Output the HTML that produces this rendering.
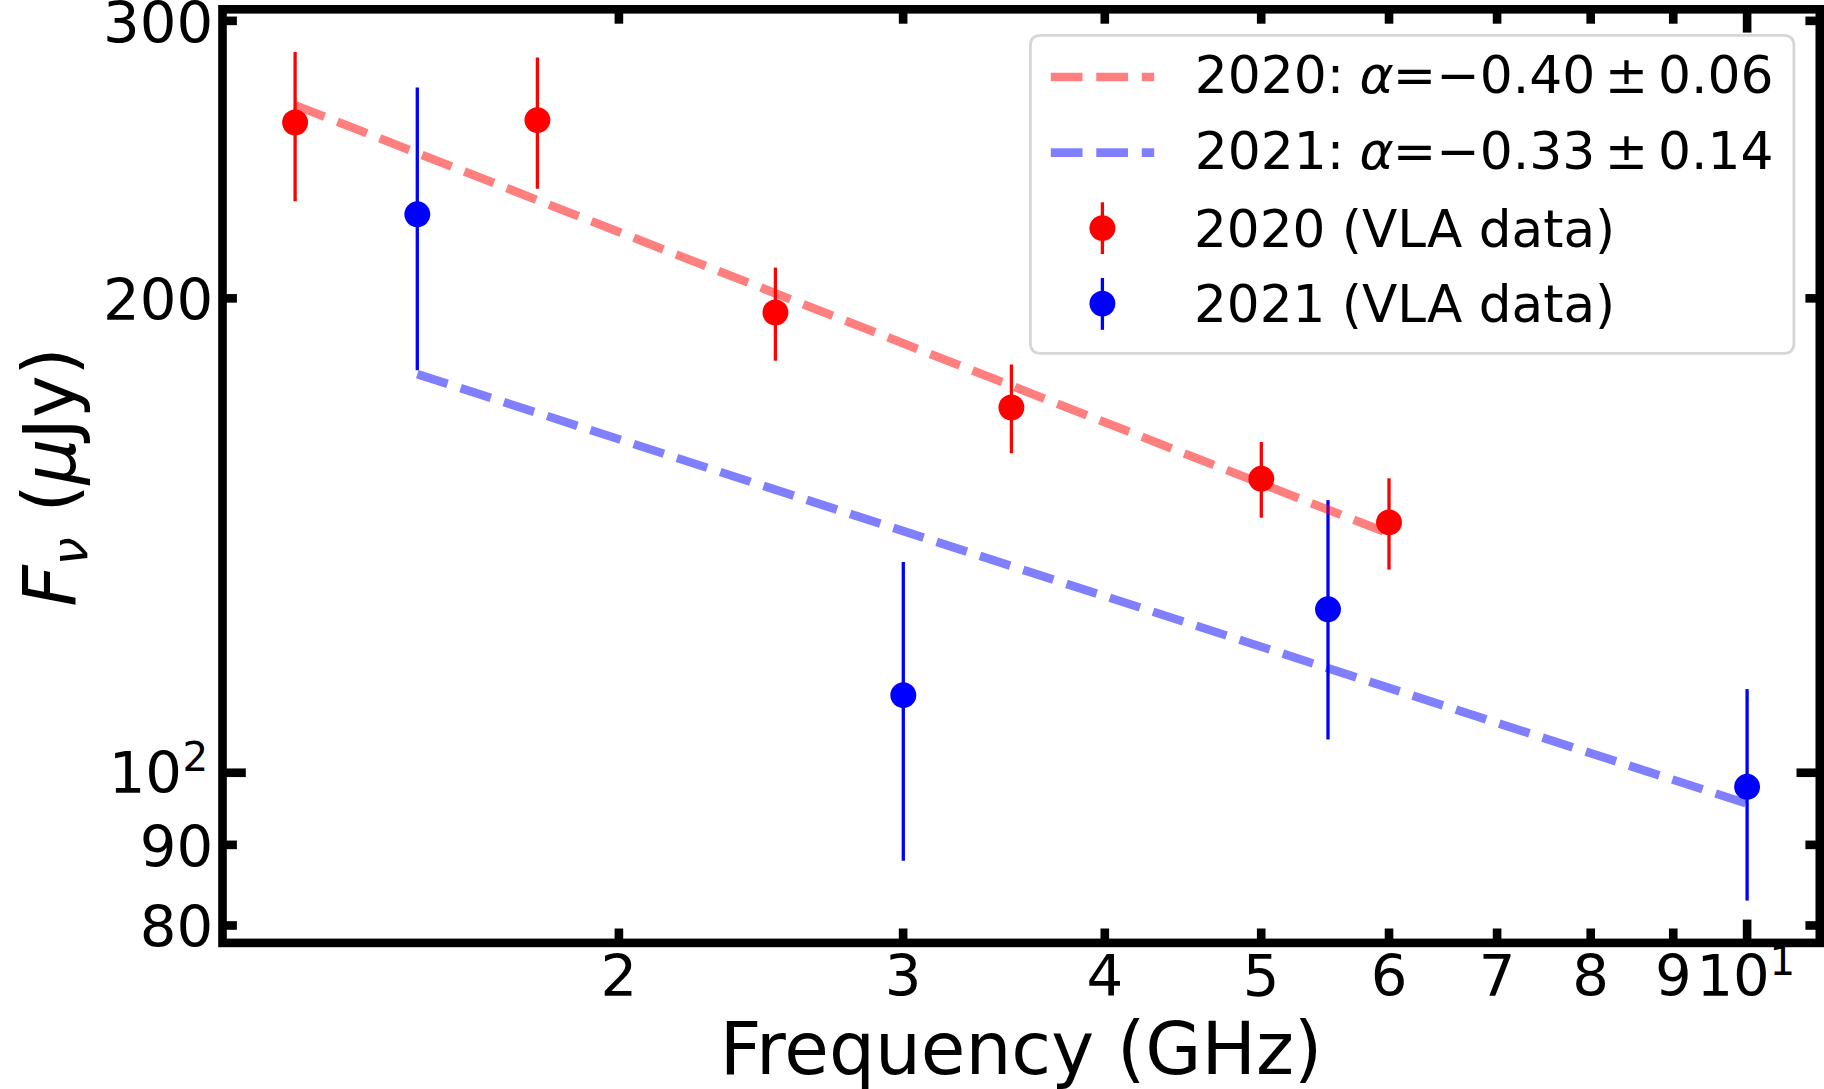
<!DOCTYPE html>
<html lang="en"><head><meta charset="utf-8"><title>Radio spectrum: F_nu vs Frequency</title>
<style>html,body{margin:0;padding:0;background:#fff}svg{display:block}</style></head>
<body>
<svg width="1824" height="1089" viewBox="0 0 1824 1089" font-family="DejaVu Sans, Liberation Sans, sans-serif">
<rect width="1824" height="1089" fill="#fff"/>
<g stroke="#00f" stroke-width="3.30">
<line x1="417.3" y1="87.4" x2="417.3" y2="370.2"/>
<line x1="903.3" y1="562.0" x2="903.3" y2="860.7"/>
<line x1="1328.0" y1="500.1" x2="1328.0" y2="739.5"/>
<line x1="1747.1" y1="689.1" x2="1747.1" y2="900.6"/>
</g>
<g stroke="#f00" stroke-width="3.30">
<line x1="295.1" y1="52.0" x2="295.1" y2="201.2"/>
<line x1="537.4" y1="57.4" x2="537.4" y2="188.8"/>
<line x1="775.4" y1="267.6" x2="775.4" y2="360.7"/>
<line x1="1011.4" y1="364.5" x2="1011.4" y2="453.2"/>
<line x1="1261.3" y1="442.0" x2="1261.3" y2="517.7"/>
<line x1="1389.0" y1="478.3" x2="1389.0" y2="569.6"/>
</g>
<g fill="none" stroke-width="8.58" stroke-dasharray="31.75 13.73" stroke-opacity="0.5">
<line x1="295.0" y1="105.2" x2="1389.0" y2="533.6" stroke="#f00"/>
<line x1="417.3" y1="374.1" x2="1747.2" y2="803.7" stroke="#00f"/>
</g>
<g fill="#f00">
<circle cx="295.1" cy="122.5" r="12.95"/>
<circle cx="537.4" cy="120.1" r="12.95"/>
<circle cx="775.4" cy="312.5" r="12.95"/>
<circle cx="1011.4" cy="407.5" r="12.95"/>
<circle cx="1261.3" cy="478.8" r="12.95"/>
<circle cx="1389.0" cy="522.4" r="12.95"/>
</g><g fill="#00f">
<circle cx="417.3" cy="214.3" r="12.95"/>
<circle cx="903.3" cy="695.2" r="12.95"/>
<circle cx="1328.0" cy="609.3" r="12.95"/>
<circle cx="1747.1" cy="786.8" r="12.95"/>
</g>
<g stroke="#000" stroke-width="8.62">
<line x1="618.90" y1="942.9" x2="618.90" y2="928.50"/>
<line x1="618.90" y1="9.3" x2="618.90" y2="23.70"/>
<line x1="903.13" y1="942.9" x2="903.13" y2="928.50"/>
<line x1="903.13" y1="9.3" x2="903.13" y2="23.70"/>
<line x1="1104.79" y1="942.9" x2="1104.79" y2="928.50"/>
<line x1="1104.79" y1="9.3" x2="1104.79" y2="23.70"/>
<line x1="1261.21" y1="942.9" x2="1261.21" y2="928.50"/>
<line x1="1261.21" y1="9.3" x2="1261.21" y2="23.70"/>
<line x1="1389.02" y1="942.9" x2="1389.02" y2="928.50"/>
<line x1="1389.02" y1="9.3" x2="1389.02" y2="23.70"/>
<line x1="1497.08" y1="942.9" x2="1497.08" y2="928.50"/>
<line x1="1497.08" y1="9.3" x2="1497.08" y2="23.70"/>
<line x1="1590.69" y1="942.9" x2="1590.69" y2="928.50"/>
<line x1="1590.69" y1="9.3" x2="1590.69" y2="23.70"/>
<line x1="1673.25" y1="942.9" x2="1673.25" y2="928.50"/>
<line x1="1673.25" y1="9.3" x2="1673.25" y2="23.70"/>
<line x1="1747.11" y1="942.9" x2="1747.11" y2="919.60"/>
<line x1="1747.11" y1="9.3" x2="1747.11" y2="32.60"/>
<line x1="222.5" y1="925.47" x2="236.90" y2="925.47"/>
<line x1="1819.8" y1="925.47" x2="1805.40" y2="925.47"/>
<line x1="222.5" y1="844.86" x2="236.90" y2="844.86"/>
<line x1="1819.8" y1="844.86" x2="1805.40" y2="844.86"/>
<line x1="222.5" y1="298.36" x2="236.90" y2="298.36"/>
<line x1="1819.8" y1="298.36" x2="1805.40" y2="298.36"/>
<line x1="222.5" y1="20.85" x2="236.90" y2="20.85"/>
<line x1="1819.8" y1="20.85" x2="1805.40" y2="20.85"/>
<line x1="222.5" y1="772.75" x2="245.80" y2="772.75"/>
<line x1="1819.8" y1="772.75" x2="1796.50" y2="772.75"/>
</g>
<rect x="222.5" y="9.3" width="1597.30" height="933.60" fill="none" stroke="#000" stroke-width="8.62" stroke-linejoin="miter"/>
<g font-size="57.7" fill="#000">
<text x="618.90" y="996.0" text-anchor="middle">2</text>
<text x="903.13" y="996.0" text-anchor="middle">3</text>
<text x="1104.79" y="996.0" text-anchor="middle">4</text>
<text x="1261.21" y="996.0" text-anchor="middle">5</text>
<text x="1389.02" y="996.0" text-anchor="middle">6</text>
<text x="1497.08" y="996.0" text-anchor="middle">7</text>
<text x="1590.69" y="996.0" text-anchor="middle">8</text>
<text x="1673.25" y="996.0" text-anchor="middle">9</text>
<text x="1696.4" y="996.0">10</text><text x="1769.5" y="974.5" font-size="40.4">1</text>
<text x="213.2" y="947.37" text-anchor="end">80</text>
<text x="213.2" y="866.76" text-anchor="end">90</text>
<text x="213.2" y="320.26" text-anchor="end">200</text>
<text x="213.2" y="42.75" text-anchor="end">300</text>
<text x="108.65" y="792.9">10</text><text x="182.6" y="771.0" font-size="40.4">2</text>
</g>
<text x="719.7" y="1074.2" font-size="72.48">Frequency (GHz)</text>
<g transform="translate(75.2 606.7) rotate(-90)" font-size="72.2">
<text x="0" y="0" font-style="italic">F</text>
<text x="41.2" y="11.9" font-size="50.5" font-style="italic">ν</text>
<text x="94.2" y="0">(</text>
<text x="122.2" y="0" font-style="italic">μ</text>
<text x="167.3" y="0">Jy)</text>
</g>
<path d="M1040.8000000000002 35.4L1783.5 35.4Q1793.9 35.4 1793.9 45.8L1793.9 342.90000000000003Q1793.9 353.3 1783.5 353.3L1040.8000000000002 353.3Q1030.4 353.3 1030.4 342.90000000000003L1030.4 45.8Q1030.4 35.4 1040.8000000000002 35.4Z" fill="#fff" fill-opacity="0.8" stroke="#ccc" stroke-opacity="0.8" stroke-width="2.8"/>
<g fill="none" stroke-width="8.58" stroke-dasharray="31.75 13.73" stroke-opacity="0.5">
<line x1="1050.8" y1="77.05" x2="1154.2" y2="77.05" stroke="#f00"/>
<line x1="1050.8" y1="152.6" x2="1154.2" y2="152.6" stroke="#00f"/>
</g>
<line x1="1102.4" y1="202.3" x2="1102.4" y2="254.1" stroke="#f00" stroke-width="3.3"/><circle cx="1102.4" cy="228.2" r="12.95" fill="#f00"/>
<line x1="1102.4" y1="278.0" x2="1102.4" y2="329.8" stroke="#00f" stroke-width="3.3"/><circle cx="1102.4" cy="303.6" r="12.95" fill="#00f"/>
<g font-size="51.9" fill="#000">
<text x="1194.7" y="93.45">2020:</text><text x="1359.5" y="93.45" font-style="italic">α</text><text x="1392.8" y="93.45">=−0.40</text><text x="1604.8" y="93.45">±</text><text x="1657.9" y="93.45">0.06</text>
<text x="1194.7" y="169.2">2021:</text><text x="1359.5" y="169.2" font-style="italic">α</text><text x="1392.8" y="169.2">=−0.33</text><text x="1604.8" y="169.2">±</text><text x="1657.9" y="169.2">0.14</text>
<text x="1194.0" y="246.7" font-size="51.62">2020 (VLA data)</text>
<text x="1194.0" y="322.1" font-size="51.62">2021 (VLA data)</text>
</g>
</svg>
</body></html>
